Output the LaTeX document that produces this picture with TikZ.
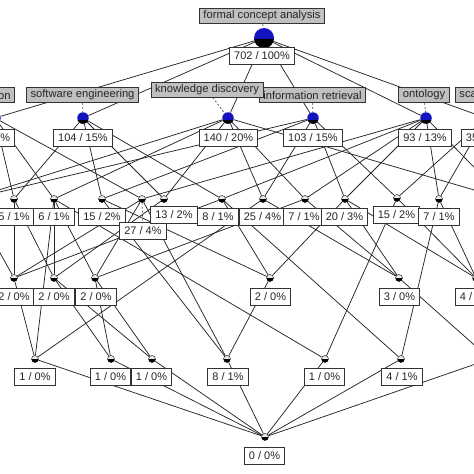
\documentclass[tikz,border=0pt]{standalone}
\usepackage{fontspec}
\setmainfont{Liberation Sans}
\pgfdeclarelayer{bg}
\pgfsetlayers{bg,main}
\definecolor{conblue}{RGB}{20,20,190}
\definecolor{kwgray}{RGB}{192,192,192}
\tikzset{
  kw/.style={draw=black!80, fill=kwgray, line width=0.9pt, inner xsep=4pt, inner ysep=0pt, minimum height=15pt, font=\fontsize{11.2}{13}\selectfont, text=black!85},
  cnt/.style={draw=black!80, fill=white, line width=0.9pt, inner xsep=4.5pt, inner ysep=0pt, minimum height=17pt, font=\fontsize{11}{13}\selectfont, text=black!85},
  edge/.style={draw=black!85, line width=0.75pt},
  link/.style={draw=black!70, line width=0.7pt, dash pattern=on 2pt off 2pt},
  sm/.style={circle, draw=black, fill=black!8, minimum size=7pt, inner sep=0pt, line width=0.4pt,
    path picture={\fill[black] (path picture bounding box.west) rectangle (path picture bounding box.south east);}},
  topc/.style={circle, fill=conblue, minimum size=20pt, inner sep=0pt,
    path picture={\fill[black] ([yshift=-1pt]path picture bounding box.west) rectangle (path picture bounding box.south east);}},
  kwc/.style={circle, fill=conblue, minimum size=11.5pt, inner sep=0pt,
    path picture={\fill[black] ([yshift=-1.5pt]path picture bounding box.west) rectangle (path picture bounding box.south east);}},
}
\begin{document}
\begin{tikzpicture}[x=1pt, y=-1pt]
\useasboundingbox (0,0) rectangle (474,474);
% concept circles
\node[topc] (T) at (264,38) {};
\node[kwc] (A) at (-5,118) {};
\node[kwc] (SE) at (83,118) {};
\node[kwc] (KD) at (228,118) {};
\node[kwc] (IR) at (313,118) {};
\node[kwc] (ON) at (426,118) {};
\node[kwc] (SC) at (486,118) {};
\node[sm] (n2a) at (14,199) {};
\node[sm] (n2b) at (54,199) {};
\node[sm] (n2c) at (102,199) {};
\node[sm] (n2d) at (142,199) {};
\node[sm] (n2e) at (164,199) {};
\node[sm] (n2f) at (222,199) {};
\node[sm] (n2g) at (263,199) {};
\node[sm] (n2h) at (305,199) {};
\node[sm] (n2i) at (345,199) {};
\node[sm] (n2j) at (397,198) {};
\node[sm] (n2k) at (439,199) {};
\node[sm] (nLX) at (-30,199) {};
\node[sm] (nRX) at (505,199) {};
\node[sm] (n3a) at (14,278) {};
\node[sm] (n3b) at (54,278) {};
\node[sm] (n3c) at (95,278) {};
\node[sm] (n3d) at (270,278) {};
\node[sm] (n3e) at (399,278) {};
\node[sm] (n3f) at (476,278) {};
\node[sm] (n4a) at (35,359) {};
\node[sm] (n4b) at (111,359) {};
\node[sm] (n4c) at (152,359) {};
\node[sm] (n4d) at (227,359) {};
\node[sm] (n4e) at (325,359) {};
\node[sm] (n4f) at (401,359) {};
\node[sm] (n4g) at (490,359) {};
\node[sm] (B) at (265,437) {};
% labels
\node[kw] (kT) at (262,16) {formal concept analysis};
\node[kw, anchor=east] (kA) at (15,95) {association};
\node[kw] (kSE) at (82.5,95) {software engineering};
\node[kw] (kIR) at (312.5,95) {information retrieval};
\node[kw] (kKD) at (207,89.5) {knowledge discovery};
\node[kw] (kON) at (424,95) {ontology};
\node[kw, anchor=west] (kSC) at (455,95) {scalability};
\node[cnt] (cT) at (262,56) {702 / 100\%};
\node[cnt, anchor=east] (cA) at (15,137.5) {84 / 12\%};
\node[cnt] (cSE) at (83,137.5) {104 / 15\%};
\node[cnt] (cKD) at (228.5,137.5) {140 / 20\%};
\node[cnt] (cIR) at (313,137.5) {103 / 15\%};
\node[cnt] (cON) at (425,137.5) {93 / 13\%};
\node[cnt, anchor=west] (cSC) at (461,137.5) {35 / 5\%};
\node[cnt] (c2a) at (14,216.5) {5 / 1\%};
\node[cnt] (c2b) at (54,216.5) {6 / 1\%};
\node[cnt] (c2c) at (102,216.5) {15 / 2\%};
\node[cnt] (c2d) at (143,230.5) {27 / 4\%};
\node[cnt] (c2e) at (174,214.5) {13 / 2\%};
\node[cnt] (c2f) at (218,216.5) {8 / 1\%};
\node[cnt] (c2g) at (262.5,216.5) {25 / 4\%};
\node[cnt] (c2h) at (304,216.5) {7 / 1\%};
\node[cnt] (c2i) at (344.5,216.5) {20 / 3\%};
\node[cnt] (c2j) at (396.5,214.5) {15 / 2\%};
\node[cnt] (c2k) at (439,216.5) {7 / 1\%};
\node[cnt] (c3a) at (14,296.5) {2 / 0\%};
\node[cnt] (c3b) at (54,296.5) {2 / 0\%};
\node[cnt] (c3c) at (96,296.5) {2 / 0\%};
\node[cnt] (c3d) at (270.5,296.5) {2 / 0\%};
\node[cnt] (c3e) at (399.5,296.5) {3 / 0\%};
\node[cnt, anchor=west] (c3f) at (455,296.5) {4 / 1\%};
\node[cnt] (c4a) at (35,377) {1 / 0\%};
\node[cnt] (c4b) at (110.5,377) {1 / 0\%};
\node[cnt] (c4c) at (151.5,377) {1 / 0\%};
\node[cnt] (c4d) at (228,377) {8 / 1\%};
\node[cnt] (c4e) at (324.5,377) {1 / 0\%};
\node[cnt] (c4f) at (402,377) {4 / 1\%};
\node[cnt] (cB) at (264.5,456) {0 / 0\%};
% connectors
\begin{pgfonlayer}{bg}
\clip (0,0) rectangle (474,474);
\foreach \u/\v in {T/A,T/SE,T/KD,T/IR,T/ON,T/SC,
  A/n2a,SE/n2a,A/n2b,KD/n2b,SE/n2c,IR/n2c,A/n2d,ON/n2d,SE/n2e,KD/n2e,
  SE/n2f,ON/n2f,KD/n2g,IR/n2g,KD/n2h,ON/n2h,IR/n2i,ON/n2i,IR/n2j,SC/n2j,
  ON/n2k,SC/n2k,KD/nLX,IR/nLX,KD/nRX,ON/nRX,
  n2a/n3a,n2d/n3a,n2f/n3a,nLX/n3a,n2a/n3b,n2b/n3b,n2e/n3b,n2b/n3c,n2d/n3c,n2h/n3c,
  n2c/n3d,n2f/n3d,n2i/n3d,n2g/n3e,n2h/n3e,n2i/n3e,n2i/n3f,n2j/n3f,n2k/n3f,
  n3a/n4a,n2g/n4a,n2b/n4a,n3b/n4b,n3c/n4b,n3b/n4c,n3c/n4c,
  n3d/n4d,n2c/n4d,n2d/n4d,n2b/n4e,n2j/n4e,n2f/n4f,n2k/n4f,n3e/n4g,n3f/n4g,
  n4a/B,n4b/B,n4c/B,n4d/B,n4e/B,n4f/B,n4g/B}
  \draw[edge] (\u) -- (\v);
\foreach \u/\v in {kT/T,kSE/SE,kKD/KD,kIR/IR,kON/ON,n2d/c2d}
  \draw[link] (\u) -- (\v);
\end{pgfonlayer}
\end{tikzpicture}
\end{document}
